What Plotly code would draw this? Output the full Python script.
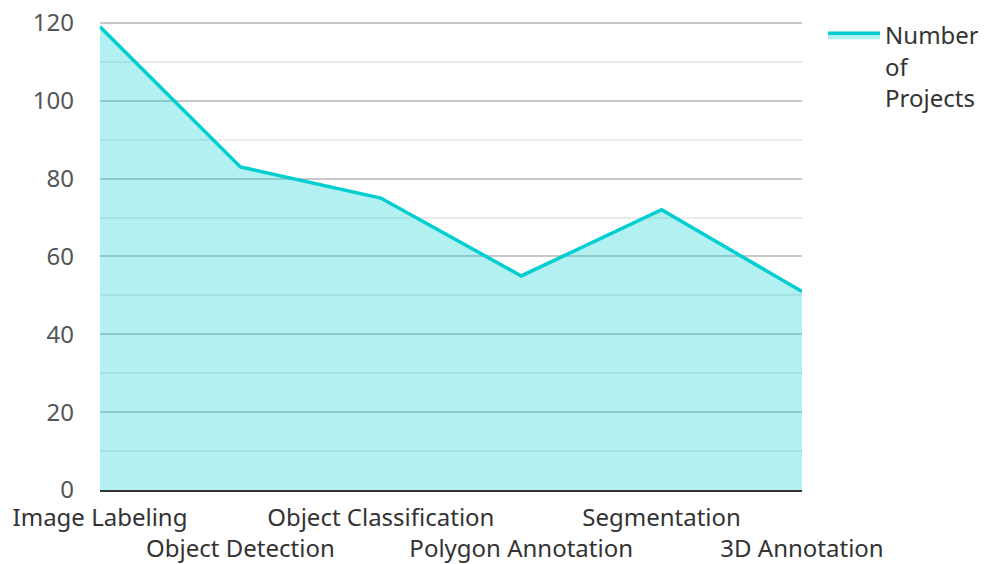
import plotly.graph_objects as go

categories = ["Image Labeling", "Object Detection", "Object Classification",
              "Polygon Annotation", "Segmentation", "3D Annotation"]
projects = [119, 83, 75, 55, 72, 51]
series_name = "Number<br>of<br>Projects"
y_ticks = [0, 20, 40, 60, 80, 100, 120]

tick_text = [c if i % 2 == 0 else "<br>" + c for i, c in enumerate(categories)]

fig = go.Figure()
fig.add_trace(go.Scatter(
    x=list(range(len(categories))), y=projects, mode="lines",
    name=series_name, fill="tozeroy",
    line=dict(color="#00CED1", width=3.5),
    fillcolor="rgba(0,206,209,0.3)",
    showlegend=True,
))

font_family = "Noto Sans"
fig.update_layout(
    width=978, height=556,
    margin=dict(l=92, r=184, t=13, b=74, autoexpand=False),
    plot_bgcolor="white", paper_bgcolor="white",
    font=dict(family=font_family, size=24, color="#333"),
    legend=dict(x=1.03, y=1.017, xanchor="left", yanchor="top", valign="top",
                font=dict(size=24, color="#333"), bgcolor="rgba(0,0,0,0)",
                itemwidth=52),
    xaxis=dict(
        tickmode="array", tickvals=list(range(len(categories))), ticktext=tick_text,
        range=[0, len(categories) - 1], showgrid=False, zeroline=False,
        showline=True, linecolor="#333", linewidth=2, ticks="",
        tickfont=dict(size=24, color="#333"), tickangle=0, automargin=False,
        ticklabelstandoff=5, ticklabeloverflow="allow",
    ),
    yaxis=dict(
        range=[0, 120.5], tickvals=y_ticks, showgrid=True, gridcolor="#c8c8c8",
        gridwidth=2, zeroline=False, showline=False, ticks="",
        tickfont=dict(size=24, color="#555"), ticklabelstandoff=25,
        automargin=False, ticklabeloverflow="allow",
        minor=dict(dtick=10, showgrid=True, gridcolor="#ebebeb", gridwidth=2),
    ),
)

fig.write_html("out.html")
